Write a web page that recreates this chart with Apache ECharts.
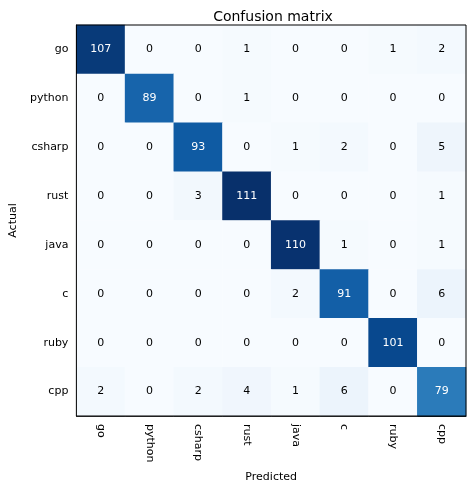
<!DOCTYPE html>
<html>
<head>
<meta charset="utf-8">
<script src="https://cdn.jsdelivr.net/npm/echarts@6/dist/echarts.min.js"></script>
<style>html,body{margin:0;padding:0;background:#fff}#chart{width:474px;height:488px}</style>
</head>
<body>
<div id="chart"></div>
<script>
// 类别与混淆矩阵
const labels = ['go', 'python', 'csharp', 'rust', 'java', 'c', 'ruby', 'cpp'];
const matrix = [
    [107, 0, 0, 1, 0, 0, 1, 2],
    [0, 89, 0, 1, 0, 0, 0, 0],
    [0, 0, 93, 0, 1, 2, 0, 5],
    [0, 0, 3, 111, 0, 0, 0, 1],
    [0, 0, 0, 0, 110, 1, 0, 1],
    [0, 0, 0, 0, 2, 91, 0, 6],
    [0, 0, 0, 0, 0, 0, 101, 0],
    [2, 0, 2, 4, 1, 6, 0, 79]
];

const maxVal = Math.max(...matrix.flat());
const data = [];
matrix.forEach((row, r) => {
    row.forEach((v, c) => {
        data.push({
            value: [c, r, v],
            label: { color: v > maxVal / 2 ? '#fff' : '#000' }
        });
    });
});

const myChart = echarts.init(document.getElementById('chart'));
myChart.setOption({
    backgroundColor: '#fff',
    animation: false,
    title: {
        text: 'Confusion matrix', left: 268, top: 5, textAlign: 'center',
        textStyle: { fontFamily: 'DejaVu Sans', fontSize: 14, fontWeight: 'normal', color: '#000' }
    },
    grid: { left: 70, right: 8, top: 25, bottom: 71, show: true, borderColor: '#000', borderWidth: 1, backgroundColor: 'transparent', z: 3 },
    xAxis: {
        type: 'category', data: labels,
        name: 'Predicted', nameLocation: 'middle', nameGap: 56,
        nameTextStyle: { fontFamily: 'DejaVu Sans', fontSize: 11, color: '#000' },
        axisLabel: { rotate: -90, fontFamily: 'DejaVu Sans', fontSize: 11, color: '#000' },
        axisTick: { alignWithLabel: true, lineStyle: { color: '#000' } },
        axisLine: { lineStyle: { color: '#000' } },
        splitArea: { show: false }
    },
    yAxis: {
        type: 'category', data: labels, inverse: true,
        name: 'Actual', nameLocation: 'middle', nameGap: 56,
        nameTextStyle: { fontFamily: 'DejaVu Sans', fontSize: 11, color: '#000' },
        axisLabel: { fontFamily: 'DejaVu Sans', fontSize: 11, color: '#000' },
        axisTick: { alignWithLabel: true, lineStyle: { color: '#000' } },
        axisLine: { lineStyle: { color: '#000' } }
    },
    visualMap: {
        show: false, min: 0, max: maxVal, dimension: 2,
        inRange: { color: ['#f7fbff', '#deebf7', '#c6dbef', '#9ecae1', '#6baed6', '#4292c6', '#2171b5', '#08519c', '#08306b'] }
    },
    series: [{
        type: 'heatmap',
        data: data,
        label: { show: true, fontFamily: 'DejaVu Sans', fontSize: 11, formatter: p => p.value[2] }
    }]
});
</script>
</body>
</html>
